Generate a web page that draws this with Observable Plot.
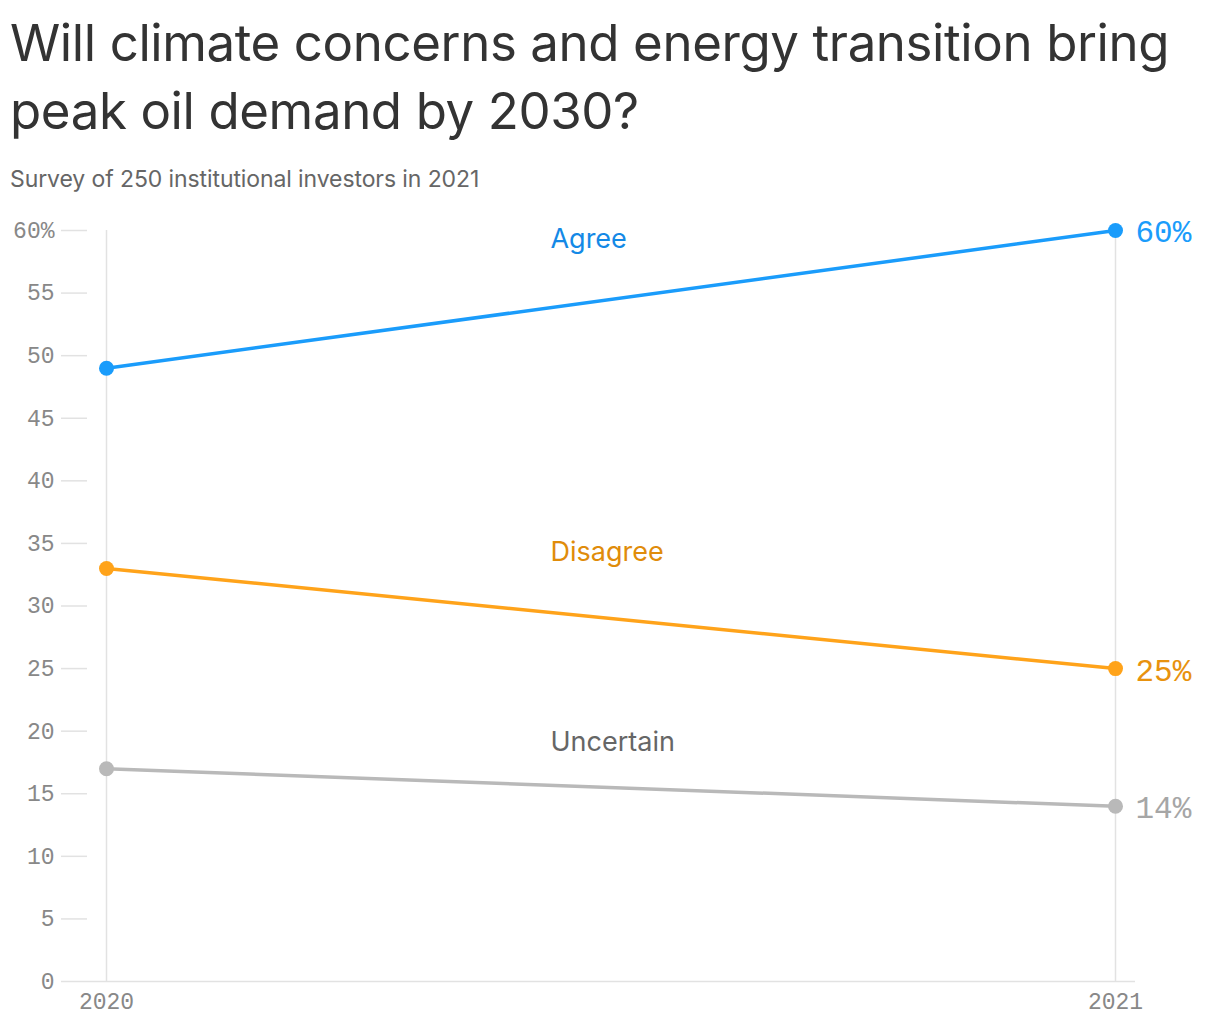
<!DOCTYPE html>
<html><head><meta charset="utf-8">
<script src="https://cdn.jsdelivr.net/npm/d3@7"></script>
<script src="https://cdn.jsdelivr.net/npm/@observablehq/plot@0.6"></script>
<style>
body{margin:0;background:#fff;font-family:Inter,sans-serif}
#head{height:205px;position:relative}
h1{position:absolute;left:10px;top:9px;margin:0;font-size:51px;line-height:68px;font-weight:400;color:#333;width:1210px;letter-spacing:-0.4px}
.sub{position:absolute;left:10px;top:165px;font-size:23px;color:#666;letter-spacing:-0.1px}
</style></head><body>
<div id="head">
<h1>Will climate concerns and energy transition bring peak oil demand by 2030?</h1>
<div class="sub">Survey of 250 institutional investors in 2021</div>
</div>
<div id="chart"></div>
<script>
const years = [2020, 2021];
const seriesNames = ["Agree", "Disagree", "Uncertain"];
const agree = [49, 60];
const disagree = [33, 25];
const uncertain = [17, 14];
const yTicks = [0, 5, 10, 15, 20, 25, 30, 35, 40, 45, 50, 55, 60];
const lineColors = ["#1a9cfb", "#ffa31a", "#b9b9b9"];
const labelColors = ["#1489e6", "#e08c0a", "#666666"];
const endColors = ["#1a9cfb", "#e8920e", "#a6a6a6"];
const labelX = [2020.44, 2020.44, 2020.44];
const labelY = [59.3, 34.3, 19.1];

const values = [agree, disagree, uncertain];
const rows = [];
seriesNames.forEach((s, i) => years.forEach((yr, j) => rows.push({series: s, year: yr, value: values[i][j]})));

const marks = [
  Plot.ruleX(years, {y1: 0, y2: 60, stroke: "#e2e2e2", strokeWidth: 1.5}),
  Plot.ruleY([0], {stroke: "#e2e2e2", strokeWidth: 1.5}),
  Plot.axisY({ticks: yTicks, tickSize: 26, tickPadding: 7, stroke: "#e2e2e2", strokeWidth: 1.5, fill: "#888",
    fontSize: 23, fontFamily: "Liberation Mono", label: null, tickFormat: d => d === 60 ? "60%" : String(d)}),
  Plot.axisX({ticks: years, tickSize: 0, tickPadding: 11, fill: "#888", fontSize: 23, fontFamily: "Liberation Mono",
    label: null, tickFormat: d => String(d)})
];
seriesNames.forEach((s, i) => {
  const data = rows.filter(d => d.series === s);
  marks.push(Plot.line(data, {x: "year", y: "value", stroke: lineColors[i], strokeWidth: 3.5}));
  marks.push(Plot.dot(data, {x: "year", y: "value", fill: lineColors[i], r: 7.5}));
  marks.push(Plot.text(data.filter(d => d.year === 2021), {x: "year", y: "value", text: d => d.value + "%",
    dx: 20, dy: 2, textAnchor: "start", fill: endColors[i], fontSize: 31, fontFamily: "Liberation Mono"}));
  marks.push(Plot.text([s], {x: labelX[i], y: labelY[i], text: d => d, textAnchor: "start",
    fill: labelColors[i], fontSize: 27, fontFamily: "Inter"}));
});

const chart = Plot.plot({
  width: 1220, height: 815,
  marginTop: 25, marginLeft: 87, marginRight: 85, marginBottom: 39,
  x: {domain: [2020, 2021], insetLeft: 19, insetRight: 20},
  y: {domain: [0, 60]},
  style: {background: "#fff", overflow: "visible"},
  marks
});
document.getElementById("chart").appendChild(chart);
</script>
</body></html>
